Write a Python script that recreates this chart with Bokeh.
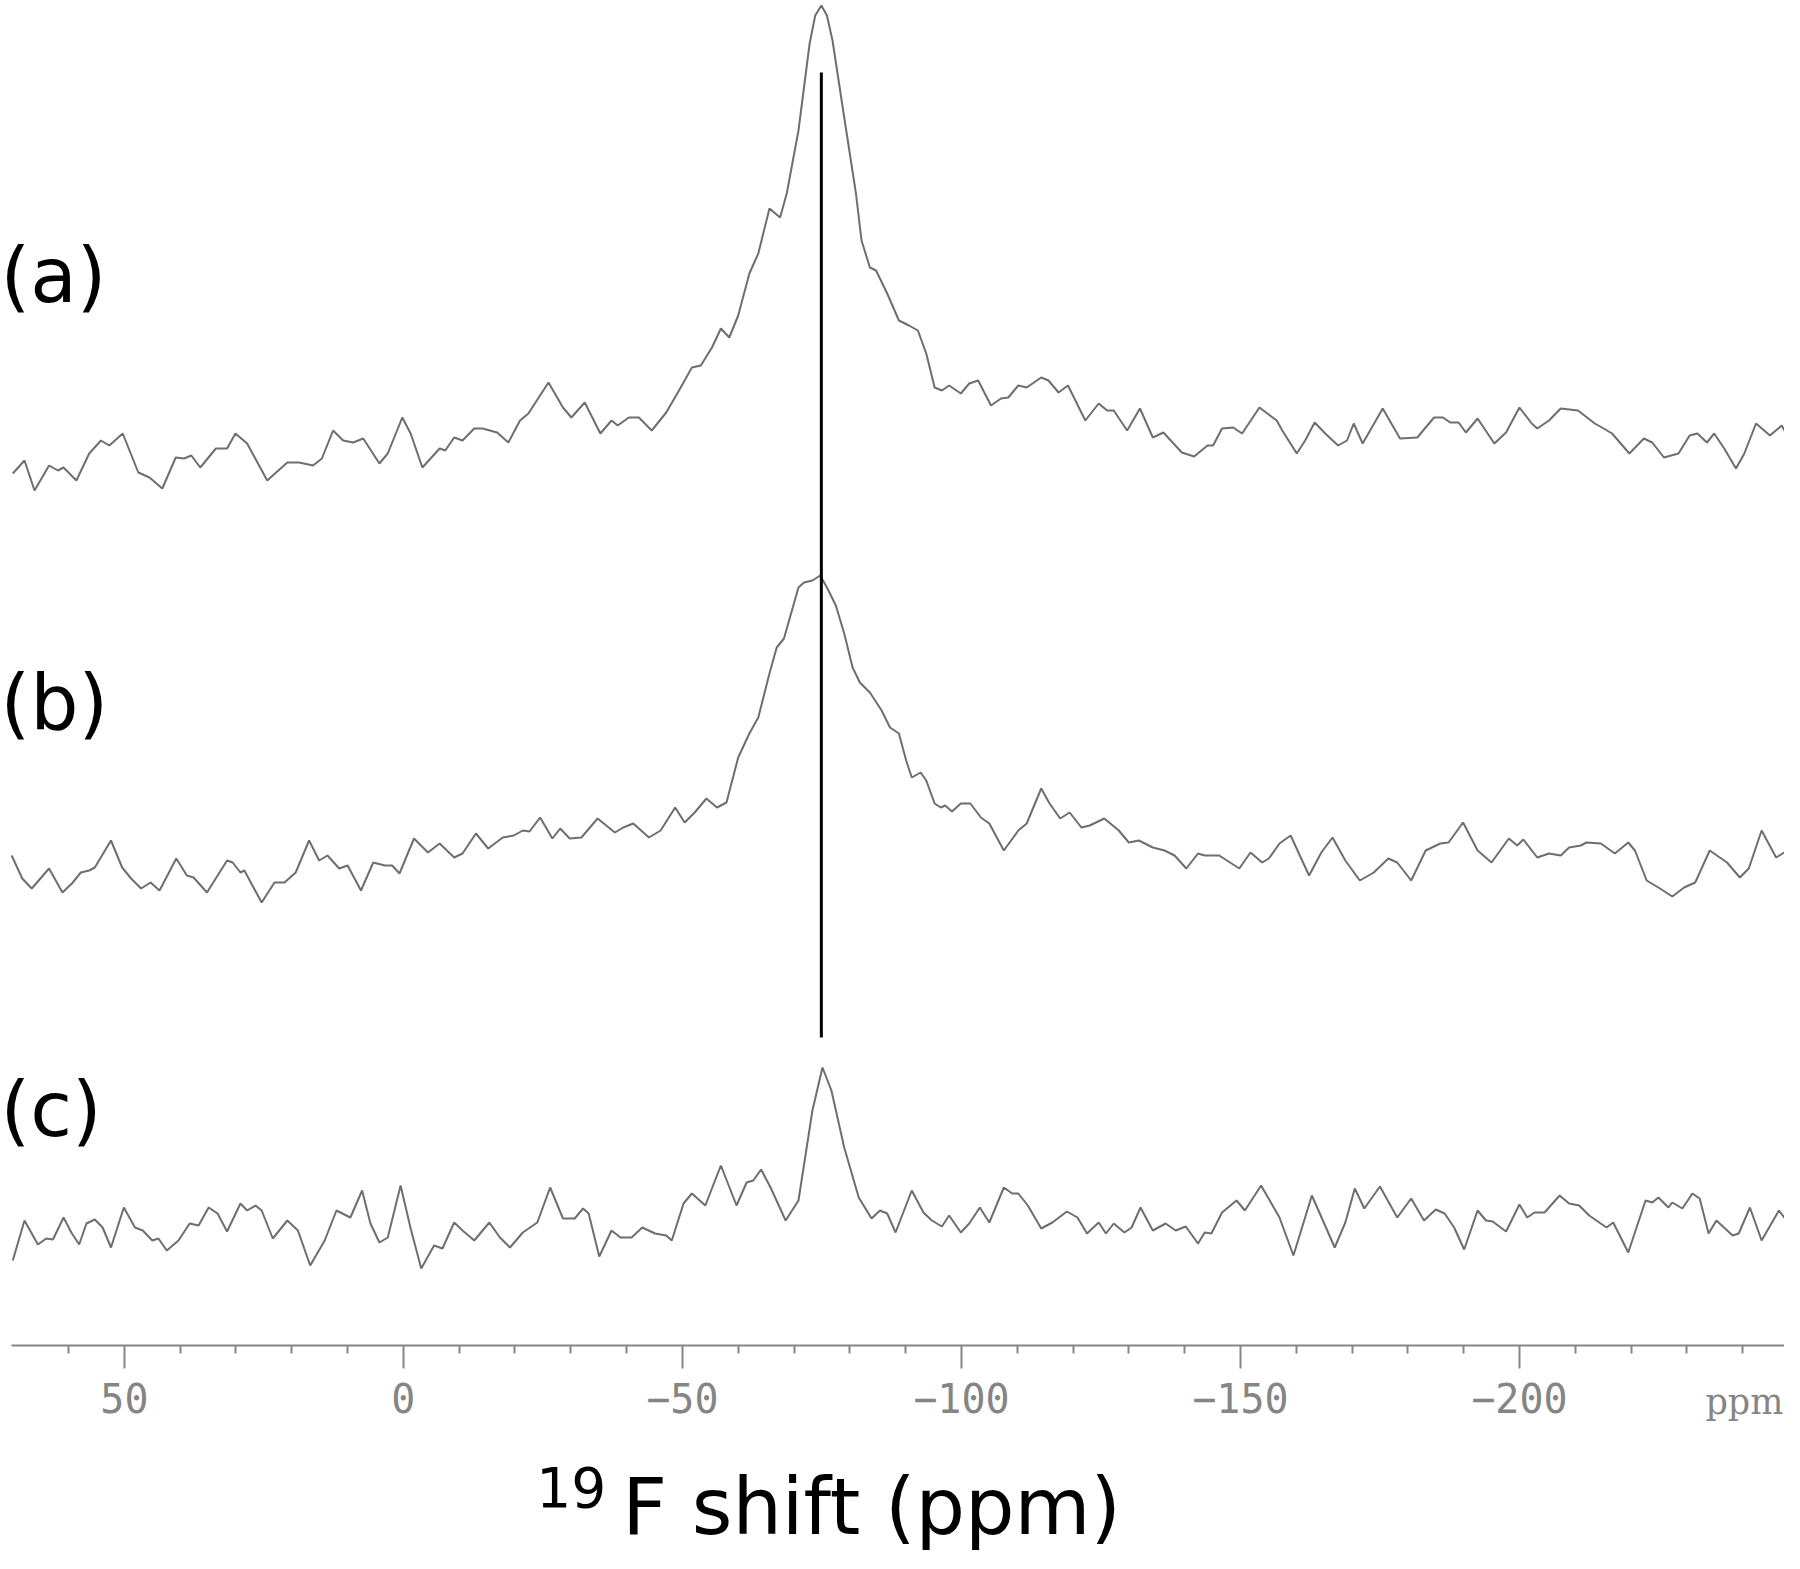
from bokeh.plotting import figure
from bokeh.models import Range1d, FixedTicker, Label, LinearAxis
from bokeh.embed import file_html
from bokeh.resources import INLINE

# ---- data (chemical shift in ppm, intensity in arbitrary units) ----
SPEC_A = [(70.0,7),(67.9,20),(66.1,-10),(63.5,15),(61.9,10),(60.9,13),(58.6,0),(56.3,27),(54.2,40),(52.7,35),
 (50.3,47),(47.5,8),(45.5,3),(43.2,-8),(40.8,23),(39.3,22),(38.0,25),(36.4,13),(33.6,32),(31.6,32),(30.1,47),
 (28.0,37),(24.4,0),(20.8,18),(18.7,18),(16.2,15),(14.6,22),(12.6,50),(10.8,40),(9.0,38),(7.2,42),(4.3,17),
 (2.8,27),(0.2,63),(-1.3,47),(-3.4,13),(-6.5,32),(-7.5,30),(-9.1,43),(-10.6,40),(-12.7,52),(-14.2,52),
 (-16.8,48),(-18.8,38),(-20.9,60),(-22.4,67),(-26.0,98),(-28.6,73),(-30.1,63),(-32.5,78),(-35.3,47),
 (-37.3,60),(-38.4,55),(-40.4,63),(-42.2,63),(-44.5,50),(-47.1,68),(-49.7,93),(-51.7,113),(-53.3,115),
 (-55.3,133),(-56.9,152),(-58.4,143),(-60.0,165),(-62.0,207),(-63.6,227),(-65.6,272),(-67.5,263),
 (-68.7,287),(-70.8,350),(-72.8,437),(-73.8,465),(-74.9,475),(-75.9,465),(-76.9,440),(-79.0,363),
 (-81.1,287),(-82.1,240),(-83.6,213),(-84.7,210),(-86.7,187),(-88.8,160),(-90.6,155),(-92.2,150),
 (-93.7,127),(-95.2,93),(-96.5,90),(-97.8,95),(-99.9,87),(-101.4,97),(-103.0,100),(-105.3,75),(-107.1,82),
 (-108.4,83),(-110.2,95),(-111.7,93),(-114.3,103),(-115.6,100),(-117.4,88),(-119.1,95),(-122.2,60),
 (-124.6,77),(-126.1,70),(-127.3,70),(-129.7,50),(-132.0,72),(-134.3,43),(-136.2,48),(-139.5,28),
 (-141.7,24),(-144.1,35),(-145.1,35),(-146.7,52),(-148.7,53),(-150.3,47),(-153.4,73),(-156.5,60),
 (-157.5,50),(-160.1,27),(-161.6,40),(-163.3,58),(-165.2,47),(-167.5,35),(-169.1,40),(-170.3,57),
 (-171.9,37),(-175.5,72),(-178.6,42),(-181.7,43),(-184.7,63),(-186.3,63),(-187.6,58),(-189.1,58),
 (-190.4,48),(-192.5,62),(-195.5,37),(-197.6,48),(-200.0,73),(-202.2,57),(-203.2,52),(-205.3,60),
 (-207.4,72),(-210.5,70),(-213.5,57),(-215.1,52),(-216.6,47),(-219.7,27),(-222.3,42),(-223.8,38),
 (-225.9,23),(-228.5,27),(-230.5,45),(-231.9,47),(-233.6,38),(-234.9,47),(-236.7,32),(-238.8,12),
 (-240.3,27),(-242.4,57),(-244.9,45),(-247.0,55),(-248.5,40),(-250.1,22)]

SPEC_B = [(70.2,25),(68.3,2),(66.6,-8),(63.5,12),(61.1,-12),(59.4,-3),(57.8,8),(56.3,10),(55.3,13),(52.4,40),
 (50.4,13),(48.8,2),(47.0,-8),(45.3,-2),(43.7,-10),(40.7,22),(38.8,5),(37.6,3),(35.2,-12),(31.6,20),(30.6,18),
 (29.2,8),(28.5,10),(25.4,-22),(23.1,-2),(21.3,-2),(19.3,8),(16.9,40),(15.1,20),(13.6,25),(11.5,12),(10.0,15),
 (7.6,-10),(5.4,18),(3.3,15),(2.0,15),(0.7,7),(-1.9,42),(-4.4,28),(-6.5,37),(-9.1,23),(-10.6,27),(-13.0,47),
 (-15.2,32),(-17.8,43),(-19.8,45),(-21.4,50),(-22.6,49),(-24.5,63),(-26.7,42),(-28.1,52),(-29.8,42),
 (-31.9,43),(-34.8,62),(-37.9,48),(-39.4,53),(-41.2,57),(-44.0,43),(-46.1,50),(-48.7,73),(-50.4,58),
 (-52.2,68),(-54.3,82),(-56.2,73),(-57.9,78),(-60.0,123),(-62.0,147),(-63.6,163),(-65.6,207),(-66.9,233),
 (-68.2,242),(-70.8,293),(-71.8,298),(-73.3,300),(-74.7,305),(-75.9,293),(-77.5,275),(-79.0,247),
 (-80.5,213),(-81.8,198),(-83.6,188),(-85.7,170),(-87.2,153),(-88.8,147),(-90.1,120),(-91.1,103),
 (-92.7,108),(-93.7,100),(-95.2,77),(-96.3,73),(-97.1,75),(-98.3,69),(-99.9,77),(-101.6,77),(-103.5,63),
 (-105.0,57),(-107.6,30),(-110.2,50),(-111.7,57),(-114.3,92),(-115.8,77),(-117.7,62),(-119.4,68),
 (-121.5,53),(-123.0,55),(-125.6,62),(-128.2,50),(-130.0,38),(-131.8,40),(-134.3,33),(-136.4,30),
 (-138.2,25),(-140.3,12),(-142.4,27),(-143.6,25),(-146.2,25),(-149.8,12),(-151.8,28),(-153.9,18),
 (-155.1,22),(-157.0,37),(-159.0,45),(-162.3,5),(-164.5,28),(-166.5,43),(-168.8,20),(-171.4,0),(-173.9,8),
 (-176.5,22),(-178.1,18),(-180.6,0),(-183.2,30),(-185.8,37),(-187.3,38),(-189.9,58),(-192.5,30),
 (-195.0,18),(-198.1,42),(-199.6,35),(-200.7,41),(-203.2,23),(-205.3,27),(-207.4,25),(-208.9,33),
 (-211.0,35),(-212.0,38),(-214.6,37),(-217.1,27),(-219.5,38),(-220.7,30),(-222.8,0),(-224.9,-7),
 (-227.4,-16),(-229.5,-7),(-231.5,-2),(-234.1,30),(-237.2,18),(-239.5,3),(-241.1,12),(-243.4,50),
 (-246.0,23),(-248.0,30),(-250.1,30)]

SPEC_C = [(70.0,0),(67.9,40),(66.6,27),(65.5,16),(64.0,22),(62.8,21),(60.9,43),(59.4,27),(58.1,16),(56.8,37),
 (55.3,41),(53.9,33),(52.4,13),(50.1,53),(48.1,33),(46.7,30),(45.0,20),(43.9,22),(42.4,10),(40.3,20),
 (38.3,37),(36.7,35),(34.9,53),(33.3,47),(31.6,29),(29.2,57),(28.0,50),(26.5,55),(25.4,50),(23.4,22),
 (20.8,40),(18.9,30),(16.7,-5),(14.1,20),(12.0,50),(9.5,43),(7.4,70),(5.9,37),(4.3,18),(2.8,23),(0.5,75),
 (-1.3,32),(-3.2,-8),(-5.5,15),(-7.0,12),(-9.1,38),(-10.6,30),(-12.7,20),(-15.4,38),(-17.3,23),(-19.1,13),
 (-21.4,28),(-24.0,38),(-26.3,73),(-28.6,42),(-30.7,42),(-32.2,52),(-33.2,47),(-35.1,4),(-37.3,30),
 (-38.9,23),(-40.9,23),(-42.8,33),(-45.1,27),(-47.1,25),(-48.1,20),(-50.2,57),(-51.7,67),(-54.1,55),
 (-56.9,95),(-59.7,55),(-61.5,78),(-62.7,80),(-64.1,91),(-65.8,73),(-68.5,40),(-70.8,60),(-73.3,150),
 (-75.1,193),(-76.7,170),(-79.0,113),(-81.6,63),(-83.9,42),(-85.4,50),(-86.7,47),(-88.2,28),(-91.1,70),
 (-93.2,48),(-94.7,40),(-96.5,34),(-97.8,45),(-99.9,28),(-101.4,37),(-103.3,53),(-105.0,38),(-107.6,73),
 (-109.1,67),(-110.2,67),(-111.9,55),(-114.3,32),(-116.3,38),(-118.9,49),(-120.8,43),(-122.5,27),
 (-124.6,38),(-125.9,27),(-127.3,37),(-129.2,28),(-130.5,33),(-132.1,53),(-134.3,30),(-136.6,37),
 (-138.4,30),(-140.2,34),(-142.4,17),(-143.6,28),(-144.8,27),(-146.7,48),(-149.3,60),(-150.8,50),
 (-153.7,75),(-157.0,43),(-159.5,5),(-162.8,65),(-166.9,13),(-168.8,38),(-170.5,72),(-172.2,52),
 (-175.0,74),(-178.1,43),(-180.6,62),(-182.9,40),(-185.0,51),(-186.6,47),(-188.3,33),(-190.1,11),
 (-192.5,50),(-194.0,40),(-195.2,39),(-197.6,29),(-200.0,56),(-201.4,43),(-202.7,48),(-204.5,48),
 (-207.2,65),(-208.9,57),(-210.7,55),(-212.5,45),(-215.6,33),(-216.8,38),(-219.5,8),(-222.6,60),
 (-223.8,58),(-224.9,63),(-226.7,53),(-227.4,58),(-229.2,52),(-231.0,67),(-232.3,62),(-233.9,27),
 (-235.3,40),(-238.2,25),(-239.3,27),(-241.3,53),(-243.4,20),(-246.5,50),(-248.3,37),(-250.1,12)]

TRACE_LABELS = ["(a)", "(b)", "(c)"]
REFERENCE_PPM = -74.9
MAJOR_TICKS = [50, 0, -50, -100, -150, -200]
MINOR_TICKS = [60, 40, 30, 20, 10, -10, -20, -30, -40, -60, -70, -80, -90, -110, -120, -130, -140,
               -160, -170, -180, -190, -210, -220, -230, -240]
TICK_TEXT = {50: "50", 0: "0", -50: "\u221250", -100: "\u2212100", -150: "\u2212150", -200: "\u2212200"}

# ---- layout constants ----
X_START, X_END = 72.2, -247.5
Y_MIN, Y_MAX = -208, 1345
BASES = [865, 465, 85]          # vertical offsets of the stacked spectra
LABEL_Y = [1070, 643, 236]
VLINE_Y = (308, 1273)
TRACE_COLOR = "#6e6e6e"
GRAY = "#858585"

p = figure(width=1784, height=1553, output_backend="svg", toolbar_location=None,
           x_range=Range1d(X_START, X_END), y_range=Range1d(Y_MIN, Y_MAX),
           min_border_left=0, min_border_right=0, min_border_top=0, min_border_bottom=0,
           x_axis_location=None, y_axis_location=None)
p.xgrid.visible = False
p.ygrid.visible = False
p.outline_line_color = None
p.background_fill_color = "white"
p.border_fill_color = "white"

for spec, base in zip([SPEC_A, SPEC_B, SPEC_C], BASES):
    xs = [pt[0] for pt in spec]
    ys = [base + pt[1] for pt in spec]
    p.line(xs, ys, line_color=TRACE_COLOR, line_width=2)

p.segment(x0=[REFERENCE_PPM], y0=[VLINE_Y[0]], x1=[REFERENCE_PPM], y1=[VLINE_Y[1]],
          line_color="black", line_width=3)

ax = LinearAxis(fixed_location=0)
ax.bounds = (-248.0, 70.2)
ax.ticker = FixedTicker(ticks=MAJOR_TICKS, minor_ticks=MINOR_TICKS)
ax.major_label_overrides = TICK_TEXT
ax.axis_line_color = GRAY
ax.axis_line_width = 2
ax.major_tick_line_color = GRAY
ax.major_tick_line_width = 2
ax.minor_tick_line_color = GRAY
ax.minor_tick_line_width = 2
ax.major_tick_out = 23
ax.major_tick_in = 0
ax.minor_tick_out = 8
ax.minor_tick_in = 0
ax.major_label_standoff = 14
ax.major_label_text_font = "DejaVu Sans Mono"
ax.major_label_text_font_size = "40px"
ax.major_label_text_color = GRAY
p.add_layout(ax, "below")

for txt, ly in zip(TRACE_LABELS, LABEL_Y):
    p.add_layout(Label(x=X_START, y=ly, text=txt, text_font="DejaVu Sans", text_font_size="76px",
                       text_color="black", text_baseline="alphabetic", text_align="left"))

p.add_layout(Label(x=-247.3, y=-56, text="ppm", text_font="DejaVu Serif", text_font_size="35px",
                   text_color=GRAY, text_align="right", text_baseline="alphabetic"))
p.add_layout(Label(x=-23.8, y=-141, text="19", text_font="DejaVu Sans", text_font_size="55px",
                   text_color="black", text_align="left", text_baseline="alphabetic"))
p.add_layout(Label(x=-39.2, y=-161, text="F shift (ppm)", text_font="DejaVu Sans", text_font_size="78px",
                   text_color="black", text_align="left", text_baseline="alphabetic"))

open("out.html", "w").write(file_html(p, INLINE))
